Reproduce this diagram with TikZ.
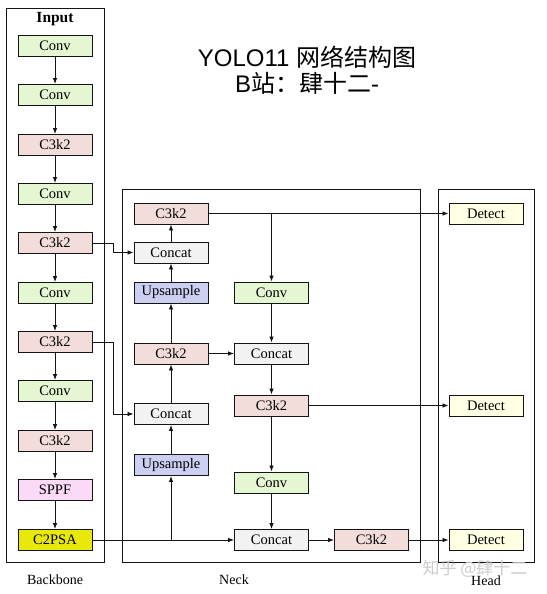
\documentclass[tikz,border=0pt]{standalone}
\usepackage{fontspec}
\setmainfont{Liberation Serif}
\newfontfamily\titlefont{Liberation Sans}
\newfontfamily\cjk{Noto Sans CJK SC}
\usetikzlibrary{arrows.meta}
\definecolor{cConv}{RGB}{228,246,210}
\definecolor{cC3}{RGB}{242,221,219}
\definecolor{cCat}{RGB}{242,242,242}
\definecolor{cUp}{RGB}{204,206,242}
\definecolor{cSPPF}{RGB}{250,218,246}
\definecolor{cPSA}{RGB}{232,232,10}
\definecolor{cDet}{RGB}{255,255,228}
\definecolor{lineC}{RGB}{20,20,20}
\begin{document}
\begin{tikzpicture}[x=1pt,y=-1pt,
  blk/.style={draw=lineC,line width=0.9pt,minimum width=74pt,minimum height=21pt,inner sep=0pt,font=\fontsize{14.5}{16}\selectfont},
  conv/.style={blk,fill=cConv},
  cthree/.style={blk,fill=cC3},
  cat/.style={blk,fill=cCat},
  ups/.style={blk,fill=cUp},
  sppf/.style={blk,fill=cSPPF},
  psa/.style={blk,fill=cPSA},
  det/.style={blk,fill=cDet},
  frame/.style={draw=lineC,line width=0.9pt},
  lbl/.style={font=\fontsize{14}{16}\selectfont},
  arr/.style={draw=lineC,line width=0.8pt,-{Latex[length=6pt,width=4.5pt]}},
  ln/.style={draw=lineC,line width=0.8pt}]
\useasboundingbox (0,0) rectangle (546,594);
\fill[white] (0,0) rectangle (546,594);
% frames
\draw[frame] (6,8) rectangle (104,562);
\draw[frame] (122,189) rectangle (420,562);
\draw[frame] (438,189) rectangle (534,562);
% title
\node (t1) at (307,57) {\titlefont\fontsize{24}{26}\selectfont YOLO11 {\cjk 网络结构图}};
\node (t2) at (307,83) {\titlefont\fontsize{24}{26}\selectfont B{\cjk 站：肆十二}-};
% backbone
\node[font=\bfseries\fontsize{15.5}{17}\selectfont] (inp) at (55,19) {Input};
\node[conv] (b1) at (55,46) {Conv};
\node[conv] (b2) at (55,95) {Conv};
\node[cthree] (b3) at (55,145) {C3k2};
\node[conv] (b4) at (55,194) {Conv};
\node[cthree] (b5) at (55,243) {C3k2};
\node[conv] (b6) at (55,293) {Conv};
\node[cthree] (b7) at (55,342) {C3k2};
\node[conv] (b8) at (55,391) {Conv};
\node[cthree] (b9) at (55,441) {C3k2};
\node[sppf] (b10) at (55,490) {SPPF};
\node[psa] (b11) at (55,540) {C2PSA};
\foreach \a/\b in {b1/b2,b2/b3,b3/b4,b4/b5,b5/b6,b6/b7,b7/b8,b8/b9,b9/b10,b10/b11}
  \draw[arr] (\a) -- (\b);
% neck column 1
\node[cthree] (n1) at (171,213.5) {C3k2};
\node[cat] (n2) at (171,252.5) {Concat};
\node[ups] (n3) at (171,292.5) {Upsample};
\node[cthree] (n4) at (171,353.5) {C3k2};
\node[cat] (n5) at (171,414) {Concat};
\node[ups] (n6) at (171,465) {Upsample};
% neck column 2
\node[conv] (m1) at (271.5,292.5) {Conv};
\node[cat] (m2) at (271.5,353.5) {Concat};
\node[cthree] (m3) at (271.5,405.5) {C3k2};
\node[conv] (m4) at (271.5,482.5) {Conv};
\node[cat] (m5) at (271.5,540) {Concat};
\node[cthree] (m6) at (371.5,540) {C3k2};
% head
\node[det] (d1) at (486,213.5) {Detect};
\node[det] (d2) at (486,405.5) {Detect};
\node[det] (d3) at (486,540) {Detect};
% labels
\node[lbl] (lb) at (55,580) {Backbone};
\node[lbl] (ln) at (234,580) {Neck};
\node[lbl] (lh) at (486,581) {Head};
\node[text=black!20,font=\cjk\fontsize{17}{19}\selectfont] (wm) at (475,569) {知乎 @肆十二};
% connectors
\coordinate (j1) at (113,243);
\coordinate (j2) at (113,252.5);
\draw[arr] (b5.east) -- (j1) -- (j2) -- (n2.west);
\coordinate (j3) at (113,342);
\coordinate (j4) at (113,414);
\draw[arr] (b7.east) -- (j3) -- (j4) -- (n5.west);
\draw[arr] (b11.east) -- (m5.west);
\coordinate (j5) at (171,540);
\draw[arr] (j5) -- (n6.south);
\draw[arr] (n6) -- (n5);
\draw[arr] (n5) -- (n4);
\draw[arr] (n4) -- (n3);
\draw[arr] (n3) -- (n2);
\draw[arr] (n2) -- (n1);
\draw[arr] (n4.east) -- (m2.west);
\draw[arr] (n1.east) -- (d1.west);
\coordinate (j6) at (271.5,213.5);
\draw[arr] (j6) -- (m1.north);
\draw[arr] (m1) -- (m2);
\draw[arr] (m2) -- (m3);
\draw[arr] (m3.east) -- (d2.west);
\draw[arr] (m3) -- (m4);
\draw[arr] (m4) -- (m5);
\draw[arr] (m5) -- (m6);
\draw[arr] (m6) -- (d3);
\end{tikzpicture}
\end{document}
